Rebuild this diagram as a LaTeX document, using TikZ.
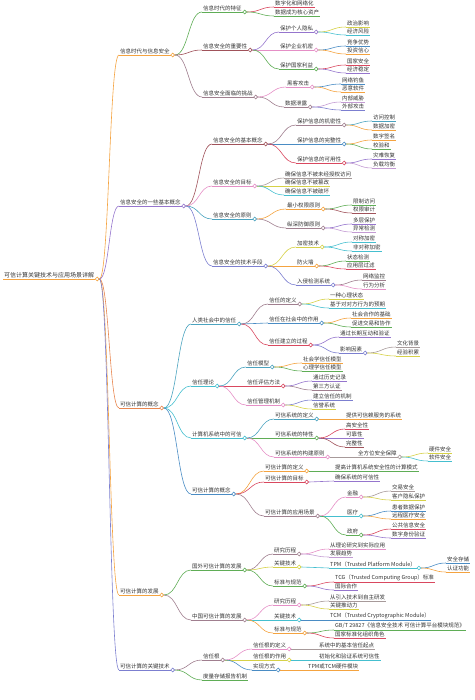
\documentclass[tikz,border=0pt]{standalone}
\usepackage{fontspec}
\setmainfont{Noto Sans CJK SC}
\usetikzlibrary{calc}

\definecolor{cOra}{HTML}{F4A340}
\definecolor{cOrb}{HTML}{E8864F}
\definecolor{cPur}{HTML}{9575CD}
\definecolor{cInd}{HTML}{7C7FD0}
\definecolor{cLil}{HTML}{C39BD3}
\definecolor{cPnk}{HTML}{E58FC6}
\definecolor{cRed}{HTML}{D9485F}
\definecolor{cBrn}{HTML}{A0525A}
\definecolor{cMau}{HTML}{A07F8F}
\definecolor{cGry}{HTML}{A79A9A}
\definecolor{cYel}{HTML}{D6D147}
\definecolor{cGrn}{HTML}{5FAD56}
\definecolor{cCyn}{HTML}{45BFCF}
\definecolor{cBlu}{HTML}{4A8CC4}
\definecolor{cTea}{HTML}{4BA3BF}

\tikzset{
  mtext/.style={font=\fontsize{5.5}{6}\selectfont, text=black!80, inner xsep=1pt, inner ysep=0.9pt},
  mroot/.style={mtext, font=\fontsize{6}{7}\selectfont},
  mline/.style={line width=0.6pt},
  knob/.style={circle, fill=white, line width=0.6pt, minimum size=3.8pt, inner sep=0pt},
}

% leaf: name, parent, x, y, colour, text
\newcommand{\leaf}[6]{%
  \node[mtext, anchor=south west] (#1) at (#3,#4) {#6};
  \draw[mline, #5] (#1.south west) -- (#1.south east);
  \draw[mline, #5] let \p1=(#2-k.east), \p2=(#1.south west) in
    (\p1) .. controls ({(\x1+\x2)/2},\y1) and ({(\x1+\x2)/2},\y2) .. (\p2);
}
% hub: a leaf with a knob for its children
\newcommand{\hub}[6]{%
  \leaf{#1}{#2}{#3}{#4}{#5}{#6}
  \node[knob, draw=#5] (#1-k) at ([xshift=1.8pt]#1.south east) {};
}

\begin{document}
\begin{tikzpicture}[x=1pt, y=-1pt]
    \useasboundingbox (0,0) rectangle (474,700);

    % Root
    \node[mroot, anchor=south west] (root) at (3,279) {可信计算关键技术与应用场景详解};
    \draw[mline, cOra] (root.south west) -- (root.south east);
    \node[knob, draw=cOra] (root-k) at ([xshift=1.8pt]root.south east) {};

    % Branch 1: 信息时代与信息安全
    \hub{era}{root}{119}{55}{cOra}{信息时代与信息安全}
    \hub{era1}{era}{202}{12}{cGrn}{信息时代的特征}
    \leaf{era1a}{era1}{274}{7}{cRed}{数字化和网络化}
    \leaf{era1b}{era1}{274}{16}{cGrn}{数据成为核心资产}
    \hub{era2}{era}{202}{50}{cBrn}{信息安全的重要性}
    \hub{era2a}{era2}{279}{32}{cPur}{保护个人隐私}
    \leaf{era2a1}{era2a}{346}{27}{cYel}{政治影响}
    \leaf{era2a2}{era2a}{346}{35}{cCyn}{经济风险}
    \hub{era2b}{era2}{279}{50}{cPnk}{保护企业机密}
    \leaf{era2b1}{era2b}{346}{46}{cBlu}{竞争优势}
    \leaf{era2b2}{era2b}{346}{54}{cOra}{投资信心}
    \hub{era2c}{era2}{279}{69}{cGrn}{保护国家利益}
    \leaf{era2c1}{era2c}{346}{65}{cRed}{国家安全}
    \leaf{era2c2}{era2c}{346}{73}{cPur}{经济稳定}
    \hub{era3}{era}{202}{97}{cMau}{信息安全面临的挑战}
    \hub{era3a}{era3}{286}{87}{cPnk}{黑客攻击}
    \leaf{era3a1}{era3a}{341}{84}{cBlu}{网络钓鱼}
    \leaf{era3a2}{era3a}{341}{92}{cOra}{恶意软件}
    \hub{era3b}{era3}{284}{107}{cMau}{数据泄露}
    \leaf{era3b1}{era3b}{341}{102}{cLil}{内部威胁}
    \leaf{era3b2}{era3b}{341}{110}{cInd}{外部攻击}

    % Branch 2: 信息安全的一些基本概念
    \hub{bas}{root}{119}{206}{cPur}{信息安全的一些基本概念}
    \hub{bas1}{bas}{212}{144}{cBrn}{信息安全的基本概念}
    \hub{bas1a}{bas1}{296}{125}{cMau}{保护信息的机密性}
    \leaf{bas1a1}{bas1a}{372}{121}{cTea}{访问控制}
    \leaf{bas1a2}{bas1a}{372}{130}{cOra}{数据加密}
    \hub{bas1b}{bas1}{296}{144}{cBlu}{保护信息的完整性}
    \leaf{bas1b1}{bas1b}{372}{140}{cOra}{数字签名}
    \leaf{bas1b2}{bas1b}{372}{149}{cGrn}{校验和}
    \hub{bas1c}{bas1}{296}{163}{cRed}{保护信息的可用性}
    \leaf{bas1c1}{bas1c}{372}{159}{cPur}{灾难恢复}
    \leaf{bas1c2}{bas1c}{372}{168}{cLil}{负载均衡}
    \hub{bas2}{bas}{212}{186}{cPnk}{信息安全的目标}
    \leaf{bas2a}{bas2}{284}{178}{cGry}{确保信息不被未经授权访问}
    \leaf{bas2b}{bas2}{284}{186}{cYel}{确保信息不被篡改}
    \leaf{bas2c}{bas2}{284}{195}{cCyn}{确保信息不被破坏}
    \hub{bas3}{bas}{212}{219}{cTea}{信息安全的原则}
    \hub{bas3a}{bas3}{286}{209}{cOra}{最小权限原则}
    \leaf{bas3a1}{bas3a}{352}{205}{cGrn}{限制访问}
    \leaf{bas3a2}{bas3a}{352}{213}{cBrn}{权限审计}
    \hub{bas3b}{bas3}{286}{228}{cMau}{纵深防御原则}
    \leaf{bas3b1}{bas3b}{352}{224}{cPur}{多层保护}
    \leaf{bas3b2}{bas3b}{352}{232}{cLil}{异常检测}
    \hub{bas4}{bas}{212}{266}{cInd}{信息安全的技术手段}
    \hub{bas4a}{bas4}{296}{247}{cYel}{加密技术}
    \leaf{bas4a1}{bas4a}{352}{242}{cCyn}{对称加密}
    \leaf{bas4a2}{bas4a}{352}{251}{cCyn}{非对称加密}
    \hub{bas4b}{bas4}{296}{266}{cOra}{防火墙}
    \leaf{bas4b1}{bas4b}{346}{261}{cGrn}{状态检测}
    \leaf{bas4b2}{bas4b}{346}{269}{cRed}{应用层过滤}
    \hub{bas4c}{bas4}{296}{285}{cInd}{入侵检测系统}
    \leaf{bas4c1}{bas4c}{362}{280}{cMau}{网络监控}
    \leaf{bas4c2}{bas4c}{362}{289}{cPnk}{行为分析}

    % Branch 3: 可信计算的概念
    \hub{tc}{root}{119}{408}{cOrb}{可信计算的概念}
    \hub{tc1}{tc}{191}{324}{cTea}{人类社会中的信任}
    \hub{tc1a}{tc1}{268}{304}{cMau}{信任的定义}
    \leaf{tc1a1}{tc1a}{329}{299}{cYel}{一种心理状态}
    \leaf{tc1a2}{tc1a}{329}{308}{cCyn}{基于对对方行为的预期}
    \hub{tc1b}{tc1}{268}{323}{cBlu}{信任在社会中的作用}
    \leaf{tc1b1}{tc1b}{351}{318}{cOra}{社会合作的基础}
    \leaf{tc1b2}{tc1b}{351}{327}{cGrn}{促进交易和协作}
    \hub{tc1c}{tc1}{268}{345}{cRed}{信任建立的过程}
    \leaf{tc1c1}{tc1c}{339}{337}{cPur}{通过长期互动和验证}
    \hub{tc1c2}{tc1c}{339}{353}{cInd}{影响因素}
    \leaf{tc1c2a}{tc1c2}{396}{347}{cGry}{文化背景}
    \leaf{tc1c2b}{tc1c2}{396}{356}{cYel}{经验积累}
    \hub{tc2}{tc}{191}{386}{cCyn}{信任理论}
    \hub{tc2a}{tc2}{246}{367}{cTea}{信任模型}
    \leaf{tc2a1}{tc2a}{302}{363}{cOra}{社会学信任模型}
    \leaf{tc2a2}{tc2a}{302}{371}{cGrn}{心理学信任模型}
    \hub{tc2b}{tc2}{246}{386}{cRed}{信任评估方法}
    \leaf{tc2b1}{tc2b}{312}{381}{cPur}{通过历史记录}
    \leaf{tc2b2}{tc2b}{312}{390}{cMau}{第三方认证}
    \hub{tc2c}{tc2}{246}{405}{cPnk}{信任管理机制}
    \leaf{tc2c1}{tc2c}{312}{400}{cInd}{建立信任的机制}
    \leaf{tc2c2}{tc2c}{312}{409}{cYel}{信誉系统}
    \hub{tc3}{tc}{191}{438}{cCyn}{计算机系统中的可信}
    \hub{tc3a}{tc3}{274}{419}{cTea}{可信系统的定义}
    \leaf{tc3a1}{tc3a}{345}{419}{cOra}{提供可信赖服务的系统}
    \hub{tc3b}{tc3}{274}{438}{cGrn}{可信系统的特性}
    \leaf{tc3b1}{tc3b}{345}{429}{cRed}{高安全性}
    \leaf{tc3b2}{tc3b}{345}{438}{cPur}{可靠性}
    \leaf{tc3b3}{tc3b}{345}{447}{cBrn}{完整性}
    \hub{tc3c}{tc3}{274}{457}{cPnk}{可信系统的构建原则}
    \hub{tc3c1}{tc3c}{357}{457}{cGry}{全方位安全保障}
    \leaf{tc3c1a}{tc3c1}{428}{453}{cYel}{硬件安全}
    \leaf{tc3c1b}{tc3c1}{428}{461}{cCyn}{软件安全}
    \hub{tc4}{tc}{191}{494}{cBlu}{可信计算的概念}
    \hub{tc4a}{tc4}{264}{471}{cOra}{可信计算的定义}
    \leaf{tc4a1}{tc4a}{334}{471}{cGrn}{提高计算机系统安全性的计算模式}
    \hub{tc4b}{tc4}{264}{482}{cRed}{可信计算的目标}
    \leaf{tc4b1}{tc4b}{334}{481}{cPur}{确保系统的可信性}
    \hub{tc4c}{tc4}{264}{516}{cMau}{可信计算的应用场景}
    \hub{tc4c1}{tc4c}{346}{497}{cPnk}{金融}
    \leaf{tc4c1a}{tc4c1}{391}{491}{cGry}{交易安全}
    \leaf{tc4c1b}{tc4c1}{391}{500}{cYel}{客户隐私保护}
    \hub{tc4c2}{tc4c}{346}{516}{cCyn}{医疗}
    \leaf{tc4c2a}{tc4c2}{391}{511}{cBlu}{患者数据保护}
    \leaf{tc4c2b}{tc4c2}{391}{519}{cOra}{远程医疗安全}
    \hub{tc4c3}{tc4c}{346}{535}{cGrn}{政府}
    \leaf{tc4c3a}{tc4c3}{391}{529}{cRed}{公共信息安全}
    \leaf{tc4c3b}{tc4c3}{391}{538}{cPur}{数字身份验证}

    % Branch 4: 可信计算的发展
    \hub{dev}{root}{119}{595}{cOra}{可信计算的发展}
    \hub{dev1}{dev}{191}{570}{cGrn}{国外可信计算的发展}
    \hub{dev1a}{dev1}{273}{554}{cMau}{研究历程}
    \leaf{dev1a1}{dev1a}{329}{549}{cPnk}{从理论研究到实际应用}
    \leaf{dev1a2}{dev1a}{329}{557}{cLil}{发展趋势}
    \hub{dev1b}{dev1}{273}{567}{cYel}{关键技术}
    \hub{dev1b1}{dev1b}{329}{568}{cCyn}{TPM（Trusted Platform Module）}
    \leaf{dev1b1a}{dev1b1}{446}{563}{cBlu}{安全存储}
    \leaf{dev1b1b}{dev1b1}{446}{572}{cOra}{认证功能}
    \hub{dev1c}{dev1}{273}{586}{cGrn}{标准与规范}
    \leaf{dev1c1}{dev1c}{334}{582}{cRed}{TCG（Trusted Computing Group）标准}
    \leaf{dev1c2}{dev1c}{334}{590}{cPur}{国际合作}
    \hub{dev2}{dev}{191}{620}{cMau}{中国可信计算的发展}
    \hub{dev2a}{dev2}{273}{605}{cPnk}{研究历程}
    \leaf{dev2a1}{dev2a}{329}{601}{cGry}{从引入技术到自主研发}
    \leaf{dev2a2}{dev2a}{329}{609}{cYel}{关键推动力}
    \hub{dev2b}{dev2}{273}{620}{cCyn}{关键技术}
    \leaf{dev2b1}{dev2b}{329}{620}{cBlu}{TCM（Trusted Cryptographic Module）}
    \hub{dev2c}{dev2}{273}{633}{cOra}{标准与规范}
    \leaf{dev2c1}{dev2c}{334}{630}{cGrn}{GB/T 29827《信息安全技术 可信计算平台模块规范》}
    \leaf{dev2c2}{dev2c}{334}{638}{cRed}{国家标准化组织角色}

    % Branch 5: 可信计算的关键技术
    \hub{key}{root}{119}{670}{cInd}{可信计算的关键技术}
    \hub{key1}{key}{202}{660}{cMau}{信任根}
    \hub{key1a}{key1}{252}{649}{cPnk}{信任根的定义}
    \leaf{key1a1}{key1a}{318}{649}{cGry}{系统中的基本信任起点}
    \hub{key1b}{key1}{252}{660}{cYel}{信任根的作用}
    \leaf{key1b1}{key1b}{318}{660}{cCyn}{初始化和验证系统可信性}
    \hub{key1c}{key1}{252}{670}{cBlu}{实现方式}
    \leaf{key1c1}{key1c}{307}{670}{cOra}{TPM或TCM硬件模块}
    \leaf{key2}{key}{202}{680}{cGrn}{度量存储报告机制}
\end{tikzpicture}
\end{document}
